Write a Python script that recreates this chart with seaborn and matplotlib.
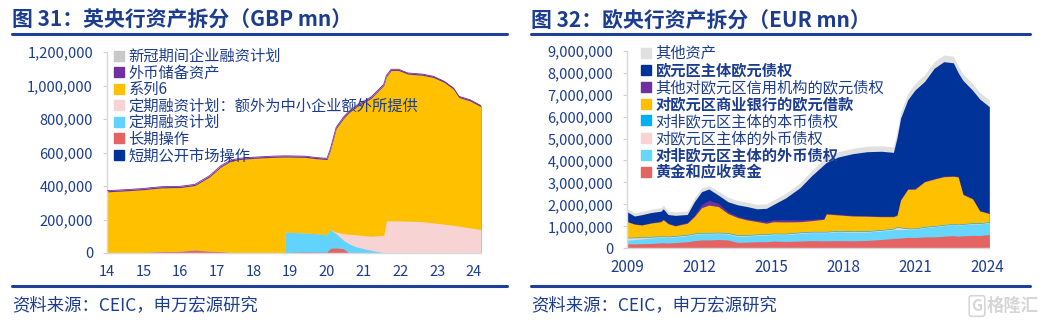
import numpy as np
import matplotlib
matplotlib.use('Agg')
import matplotlib.pyplot as plt
from matplotlib.lines import Line2D
from matplotlib.ticker import FuncFormatter
import seaborn as sns

# ---------------- BoE balance sheet (GBP bn; ×1000 → GBP mn) ----------------
boe_dates = [2014.0, 2014.5, 2015.0, 2015.2, 2015.5, 2016.0, 2016.4, 2016.8, 2017.1, 2017.35,
             2017.6, 2018.0, 2018.5, 2018.85, 2018.86, 2019.4, 2019.7, 2020.0, 2020.09, 2020.25,
             2020.45, 2020.6, 2020.8, 2021.2, 2021.55, 2021.62, 2021.75, 2021.95, 2022.2, 2022.6,
             2022.9, 2023.2, 2023.45, 2023.6, 2023.9, 2024.2]
boe_short_omo = [0, 0, 0, 0, 0, 0, 0, 0, 0, 0, 0, 0, 0, 0, 0, 0, 0, 0, 0, 0,
                 0, 0, 0, 0, 0, 0, 0, 0, 0, 0, 0, 0, 0, 0, 0, 0]
boe_long_ops = [0, 0, 0, 5, 8, 10, 18, 10, 8, 3, 0, 0, 0, 0, 3, 6, 5, 5, 28, 30,
                25, 0, 0, 0, 0, 0, 0, 0, 0, 0, 0, 0, 0, 0, 0, 0]
boe_tfs = [0, 0, 0, 0, 0, 0, 0, 0, 0, 0, 0, 0, 0, 0, 122, 113, 110, 103, 111, 85,
           51, 55, 36, 16, 2, 0, 0, 0, 0, 0, 0, 0, 0, 0, 0, 0]
boe_tfsme = [0, 0, 0, 0, 0, 0, 0, 0, 0, 0, 0, 0, 0, 0, 0, 0, 0, 0, 0, 10,
             39, 57, 73, 84, 103, 191, 193, 192, 190, 187, 180, 172, 165, 160, 150, 140]
boe_series6 = [365, 371, 378, 378, 381, 381, 385, 445, 505, 542, 558, 565, 571, 573, 448, 452, 448, 450, 474, 618,
               688, 726, 762, 823, 896, 862, 897, 898, 878, 874, 868, 846, 813, 768, 758, 733]
boe_fx_reserves = [7, 7, 7, 7, 7, 7, 7, 7, 7, 7, 7, 7, 7, 7, 7, 7, 7, 7, 7, 7,
                   7, 7, 7, 7, 7, 7, 7, 7, 7, 7, 7, 7, 7, 7, 7, 7]
boe_ccff = [0, 0, 0, 0, 0, 0, 0, 0, 0, 0, 0, 0, 0, 0, 0, 0, 0, 0, 0, 10,
            15, 15, 15, 12, 5, 3, 0, 0, 0, 0, 0, 0, 0, 0, 0, 0]
boe_names = ['短期公开市场操作', '长期操作', '定期融资计划', '定期融资计划：额外为中小企业额外所提供',
             '系列6', '外币储备资产', '新冠期间企业融资计划']
boe_colors = ['#003399', '#e46464', '#62d3fc', '#f7d3d3', '#ffc000', '#7030a0', '#c9c9c9']
boe_xticks = [2014, 2015, 2016, 2017, 2018, 2019, 2020, 2021, 2022, 2023, 2024]
boe_xlabels = ['14', '15', '16', '17', '18', '19', '20', '21', '22', '23', '24']

# ---------------- ECB balance sheet (EUR bn; ×1000 → EUR mn) ----------------
ecb_dates = [2009.0, 2009.3, 2009.6, 2010.0, 2010.4, 2010.5, 2010.7, 2011.0, 2011.5, 2011.8,
             2012.1, 2012.4, 2012.8, 2013.2, 2013.6, 2014.0, 2014.4, 2014.8, 2015.1, 2015.6,
             2016.2, 2016.7, 2017.2, 2017.3, 2017.8, 2018.4, 2019.0, 2019.6, 2020.1, 2020.25,
             2020.4, 2020.7, 2021.0, 2021.4, 2021.8, 2022.2, 2022.6, 2022.8, 2023.0, 2023.4,
             2023.7, 2024.1]
ecb_gold = [200, 200, 210, 220, 250, 250, 240, 260, 300, 350, 380, 380, 400, 380, 270, 280, 300, 300, 330, 310,
            330, 350, 340, 340, 350, 340, 360, 400, 450, 460, 470, 500, 490, 520, 520, 550, 580, 550, 570, 590,
            580, 630]
ecb_fx_non_ea = [170, 200, 220, 250, 250, 250, 250, 260, 270, 280, 280, 280, 270, 270, 280, 280, 290, 300, 300, 310,
                 350, 360, 370, 370, 400, 390, 380, 390, 400, 400, 380, 360, 380, 420, 460, 480, 500, 500, 500, 520,
                 530, 530]
ecb_fx_ea = [100, 80, 60, 40, 30, 30, 30, 30, 30, 30, 30, 30, 30, 30, 30, 30, 30, 30, 30, 30,
             30, 30, 30, 30, 30, 30, 30, 30, 30, 100, 80, 30, 20, 20, 20, 20, 20, 20, 20, 20,
             20, 20]
ecb_eur_non_ea = [30, 30, 30, 30, 30, 30, 30, 30, 30, 30, 30, 30, 30, 30, 30, 30, 30, 30, 30, 30,
                  30, 30, 30, 30, 30, 30, 30, 30, 30, 30, 30, 30, 30, 30, 30, 30, 30, 30, 30, 30,
                  30, 30]
ecb_lending = [710, 590, 540, 610, 650, 740, 570, 440, 510, 760, 1130, 1250, 1170, 870, 790, 670, 570, 480, 520, 520,
               470, 490, 550, 790, 710, 680, 660, 590, 530, 510, 1240, 1770, 1770, 2040, 2120, 2180, 2150, 2150, 1330, 1090,
               540, 370]
ecb_other_ci = [20, 20, 20, 20, 30, 30, 30, 30, 40, 50, 150, 220, 150, 80, 60, 50, 60, 80, 90, 100,
                80, 60, 40, 40, 30, 30, 30, 30, 30, 30, 30, 30, 30, 30, 30, 30, 30, 30, 30, 30,
                30, 30]
ecb_securities = [430, 350, 450, 460, 450, 470, 390, 450, 360, 630, 580, 510, 370, 460, 520, 560, 520, 600, 700, 990,
                  1470, 2000, 2450, 2310, 2610, 2810, 2910, 2950, 2900, 3510, 3700, 4050, 4490, 4540, 5020, 5210, 5140, 4720, 5170, 4920,
                  5070, 4840]
ecb_other = [140, 150, 150, 150, 160, 170, 160, 160, 160, 170, 170, 150, 180, 200, 200, 200, 200, 200, 200, 210,
             220, 230, 240, 240, 240, 240, 250, 250, 250, 260, 270, 280, 290, 300, 300, 300, 300, 300, 300, 300,
             300, 300]
ecb_names = ['黄金和应收黄金', '对非欧元区主体的外币债权', '对欧元区主体的外币债权', '对非欧元区主体的本币债权',
             '对欧元区商业银行的欧元借款', '其他对欧元区信用机构的欧元债权', '欧元区主体欧元债权', '其他资产']
ecb_bold = ['黄金和应收黄金', '对非欧元区主体的外币债权', '对欧元区商业银行的欧元借款', '欧元区主体欧元债权']
ecb_colors = ['#e46464', '#66d6ff', '#f8d3d3', '#00b0f0', '#ffc000', '#7030a0', '#003399', '#e0e0e0']
ecb_xticks = [2009, 2012, 2015, 2018, 2021, 2024]
ecb_xlabels = ['2009', '2012', '2015', '2018', '2021', '2024']

# ---------------- style ----------------
sns.set_theme(style='white')
plt.rcParams['font.family'] = ['Noto Sans CJK SC', 'DejaVu Sans']
plt.rcParams['axes.unicode_minus'] = False
TXT = '#1c3d8f'
LINE = '#1f3f99'
W, H = 1043, 327

fig = plt.figure(figsize=(W / 100, H / 100), dpi=100)
fig.patch.set_facecolor('white')


def fx(x):
    return x / W


def fy(y):
    return 1 - y / H


def stacked(ax, dates, layers, colors):
    cum = np.cumsum(np.array(layers, dtype=float) * 1000, axis=0)
    for i in reversed(range(len(layers))):
        ax.fill_between(dates, 0, cum[i], color=colors[i], lw=0, zorder=2)
    return cum


def style_axes(ax):
    ax.set_facecolor('white')
    sns.despine(ax=ax, top=True, right=True)
    for s in ('left', 'bottom'):
        ax.spines[s].set_color('#d9d9d9')
        ax.spines[s].set_linewidth(1)
        ax.spines[s].set_zorder(3)
    ax.yaxis.set_major_formatter(FuncFormatter(lambda v, p: f'{v:,.0f}'))
    ax.tick_params(axis='y', colors='#d0d0d0', labelcolor=TXT, labelsize=10.5,
                   length=3, width=0.8, pad=7, direction='out', left=True)
    ax.tick_params(axis='x', colors='#d0d0d0', labelcolor=TXT, labelsize=10.5,
                   length=3, width=0.8, pad=9, direction='in', bottom=True)
    ax.grid(False)


# ---------- left: BoE ----------
axL = fig.add_axes([fx(107), fy(253), fx(481 - 107), (253 - 52) / H])
boe_layers = [boe_short_omo, boe_long_ops, boe_tfs, boe_tfsme, boe_series6, boe_fx_reserves, boe_ccff]
cumL = stacked(axL, boe_dates, boe_layers, boe_colors)
sns.lineplot(x=boe_dates, y=cumL[5], ax=axL, color='#7030a0', lw=0.6, zorder=4)
axL.set_xlim(2014, 2024.2)
axL.set_ylim(0, 1200000)
axL.set_xticks(boe_xticks)
axL.set_xticklabels(boe_xlabels)
axL.set_yticks(np.arange(0, 1200001, 200000))
style_axes(axL)

hL = [Line2D([], [], ls='none', marker='s', ms=6.5, mfc=c, mec=c) for c in reversed(boe_colors)]
legL = axL.legend(hL, list(reversed(boe_names)), loc='upper left',
                  bbox_to_anchor=(fx(114), fy(48)), bbox_transform=fig.transFigure,
                  frameon=False, fontsize=11, labelspacing=-0.03, handlelength=0.7,
                  handletextpad=0.25, borderpad=0, borderaxespad=0, labelcolor=TXT)
legL.set_zorder(6)

# ---------- right: ECB ----------
axR = fig.add_axes([fx(627.3), fy(248.3), fx(989.3 - 627.3), (248.3 - 50.7) / H])
ecb_layers = [ecb_gold, ecb_fx_non_ea, ecb_fx_ea, ecb_eur_non_ea, ecb_lending,
              ecb_other_ci, ecb_securities, ecb_other]
stacked(axR, ecb_dates, ecb_layers, ecb_colors)
axR.set_xlim(2009, 2024.1)
axR.set_ylim(0, 9000000)
axR.set_xticks(ecb_xticks)
axR.set_xticklabels(ecb_xlabels)
axR.set_yticks(np.arange(0, 9000001, 1000000))
style_axes(axR)
axR.tick_params(axis='x', labelsize=11, pad=8)

hR = [Line2D([], [], ls='none', marker='s', ms=6.5, mfc=c, mec=c) for c in reversed(ecb_colors)]
legR = axR.legend(hR, list(reversed(ecb_names)), loc='upper left',
                  bbox_to_anchor=(fx(641), fy(45)), bbox_transform=fig.transFigure,
                  frameon=False, fontsize=11, labelspacing=0.03, handlelength=0.7,
                  handletextpad=0.25, borderpad=0, borderaxespad=0, labelcolor=TXT)
legR.set_zorder(6)
for t in legR.get_texts():
    if t.get_text() in ecb_bold:
        t.set_fontweight('bold')

# ---------- titles, rules, sources ----------
for x0, x1, title in [(12, 507, '图 31：英央行资产拆分（GBP mn）'),
                      (531, 1030, '图 32：欧央行资产拆分（EUR mn）')]:
    fig.text(fx(x0), fy(20.5), title, fontsize=15, fontweight='bold', color=TXT,
             ha='left', va='center')
    fig.add_artist(Line2D([fx(x0), fx(x1)], [fy(33.7), fy(33.7)], transform=fig.transFigure,
                          color=LINE, lw=2.2))
    fig.add_artist(Line2D([fx(x0), fx(x1)], [fy(285.7), fy(285.7)], transform=fig.transFigure,
                          color=LINE, lw=2.2))
    fig.text(fx(x0), fy(305.5), '资料来源：CEIC，申万宏源研究', fontsize=12.5, color=TXT,
             ha='left', va='center')

# watermark
fig.text(fx(977), fy(306), 'G', fontsize=11, fontweight='bold', color='#d6d6d6', ha='center', va='center',
         bbox=dict(boxstyle='round,pad=0.15', fc='none', ec='#d6d6d6', lw=1.2))
fig.text(fx(1013), fy(306), '格隆汇', fontsize=12.5, fontweight='bold', color='#d6d6d6',
         ha='center', va='center')

fig.savefig('out.png', dpi=100, facecolor='white')
